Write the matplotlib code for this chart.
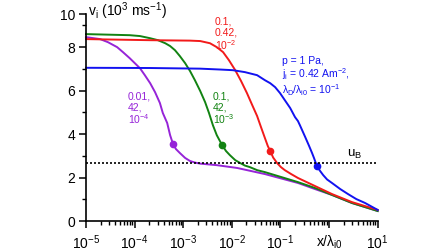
import numpy as np
import matplotlib
matplotlib.use('Agg')
import matplotlib.pyplot as plt
from matplotlib.ticker import LogLocator, FixedLocator, NullFormatter

plt.rcParams['font.family'] = ['Liberation Sans', 'DejaVu Sans']
plt.rcParams['mathtext.fontset'] = 'custom'
plt.rcParams['mathtext.rm'] = 'Liberation Sans'
plt.rcParams['mathtext.it'] = 'Liberation Sans'

# curves: log10(x/lambda_i0) and v_i in 10^3 m/s
purple_logx = [-5.0, -4.71, -4.55, -4.36, -4.24, -4.10, -3.89, -3.79, -3.68, -3.58,
               -3.48, -3.42, -3.33, -3.27, -3.21, -3.15, -3.07, -2.96, -2.86, -2.76,
               -2.65, -2.31, -1.89, -1.32, -0.64, -0.29, 0.06, 0.47, 1.0]
purple_v = [8.46, 8.37, 8.23, 8.00, 7.77, 7.49, 7.03, 6.71, 6.34, 5.93,
            5.43, 4.97, 4.51, 3.95, 3.54, 3.31, 3.13, 2.90, 2.76, 2.69,
            2.64, 2.57, 2.44, 2.16, 1.75, 1.47, 1.20, 0.83, 0.46]

green_logx = [-5.0, -4.10, -3.89, -3.68, -3.52, -3.37, -3.27, -3.17, -3.07, -2.96,
              -2.86, -2.76, -2.65, -2.55, -2.47, -2.39, -2.31, -2.20, -2.12, -2.04,
              -1.93, -1.83, -1.73, -1.63, -1.48, -1.32, -0.64, -0.29, 0.06, 0.47, 1.0]
green_v = [8.60, 8.55, 8.51, 8.41, 8.32, 8.18, 8.05, 7.86, 7.59, 7.26,
           6.90, 6.48, 5.98, 5.47, 4.97, 4.41, 3.95, 3.49, 3.22, 3.03,
           2.80, 2.67, 2.55, 2.48, 2.34, 2.25, 1.79, 1.52, 1.20, 0.83, 0.46]

red_logx = [-5.0, -3.68, -2.86, -2.65, -2.45, -2.31, -2.18, -2.06, -1.93, -1.81,
            -1.69, -1.58, -1.48, -1.40, -1.32, -1.26, -1.21, -1.15, -1.07, -0.99,
            -0.91, -0.78, -0.64, -0.29, 0.06, 0.47, 1.0]
red_v = [8.37, 8.32, 8.30, 8.28, 8.18, 8.00, 7.77, 7.40, 6.94, 6.44,
         5.89, 5.33, 4.83, 4.32, 3.82, 3.45, 3.22, 2.92, 2.67, 2.48,
         2.34, 2.16, 1.98, 1.61, 1.24, 0.87, 0.51]

blue_logx = [-5.0, -3.68, -2.65, -2.24, -1.98, -1.73, -1.48, -1.32, -1.21, -1.11,
             -1.01, -0.91, -0.80, -0.70, -0.64, -0.60, -0.49, -0.41, -0.35, -0.31,
             -0.25, -0.19, -0.12, -0.04, 0.06, 0.23, 0.39, 0.56, 0.74, 1.0]
blue_v = [7.05, 7.04, 7.01, 6.97, 6.94, 6.85, 6.71, 6.48, 6.34, 6.16,
          5.89, 5.56, 5.20, 4.78, 4.60, 4.41, 3.86, 3.45, 3.13, 2.90,
          2.53, 2.32, 2.11, 1.91, 1.75, 1.47, 1.24, 1.01, 0.83, 0.51]

# marked points on each curve
purple_mark = (-3.21, 3.54)
green_mark = (-2.20, 3.49)
red_mark = (-1.21, 3.22)
blue_mark = (-0.25, 2.53)

u_B = 2.67
y_top = 9.52

c_purple = '#9624d8'
c_green = '#128312'
c_red = '#f21a1a'
c_blue = '#1212f0'

fig = plt.figure(figsize=(4.48, 2.52), dpi=100)
ax = fig.add_axes([0.192, 0.123, 0.651, 0.821])

for lx, v, mk, c in [(purple_logx, purple_v, purple_mark, c_purple),
                     (green_logx, green_v, green_mark, c_green),
                     (red_logx, red_v, red_mark, c_red),
                     (blue_logx, blue_v, blue_mark, c_blue)]:
    ax.plot(10 ** np.array(lx), v, color=c, lw=1.4, clip_on=False,
            solid_joinstyle='round')
    ax.plot(10 ** mk[0], mk[1], 'o', color=c, ms=4.5)

ax.plot([1e-5, 1e1], [u_B, u_B], color='black', lw=1.2, ls=(0, (1.2, 1.2)))

ax.set_xscale('log')
ax.set_xlim(1e-5, 1e1)
ax.set_ylim(0, y_top)

ax.xaxis.set_major_locator(FixedLocator([1e-5, 1e-4, 1e-3, 1e-2, 1e-1, 1e0, 1e1]))
ax.xaxis.set_minor_locator(LogLocator(base=10, subs=range(2, 10), numticks=20))
ax.xaxis.set_minor_formatter(NullFormatter())
ax.set_xticklabels([r'$10^{-5}$', r'$10^{-4}$', r'$10^{-3}$', r'$10^{-2}$',
                    r'$10^{-1}$', r'x/$\lambda_{\mathrm{i0}}$', r'$10^{1}$'])

ax.set_yticks([0, 2, 4, 6, 8, y_top])
ax.set_yticklabels(['0', '2', '4', '6', '8', '10'])
ax.set_yticks([1, 3, 5, 7, 9], minor=True)

for s in ['top', 'right']:
    ax.spines[s].set_visible(False)
for s in ['left', 'bottom']:
    ax.spines[s].set_linewidth(1.2)
ax.tick_params(which='major', direction='out', length=5, width=1.1, labelsize=10, pad=3)
ax.tick_params(which='minor', direction='out', length=3, width=1.0)
ax.tick_params(axis='x', which='major', pad=4)

ax.text(1.12e-5, 9.65, r'v$_\mathrm{i}$ (10$^3$ ms$^{\mathrm{-1}}$)', fontsize=10, va='center')

lab = dict(fontsize=7.5, va='top', ha='left', linespacing=1.05)
ax.text(10 ** -4.14, 5.95, '0.01,\n42,\n$10^{-4}$', color=c_purple, **lab)
ax.text(10 ** -2.39, 5.95, '0.1,\n42,\n$10^{-3}$', color=c_green, **lab)
ax.text(10 ** -2.35, 9.4, '0.1,\n0.42,\n$10^{-2}$', color=c_red, **lab)
ax.text(10 ** -0.97, 7.6,
        'p = 1 Pa,\n' r'j$_\mathrm{i}$ = 0.42 Am$^{-2}$,' '\n'
        r'$\lambda_\mathrm{D}/\lambda_\mathrm{i0}$ = 10$^{-1}$',
        color=c_blue, **lab)
ax.text(10 ** 0.37, 3.05, r'u$_\mathrm{B}$', fontsize=9.5, va='center', ha='left')

fig.savefig('out.png', dpi=100)
